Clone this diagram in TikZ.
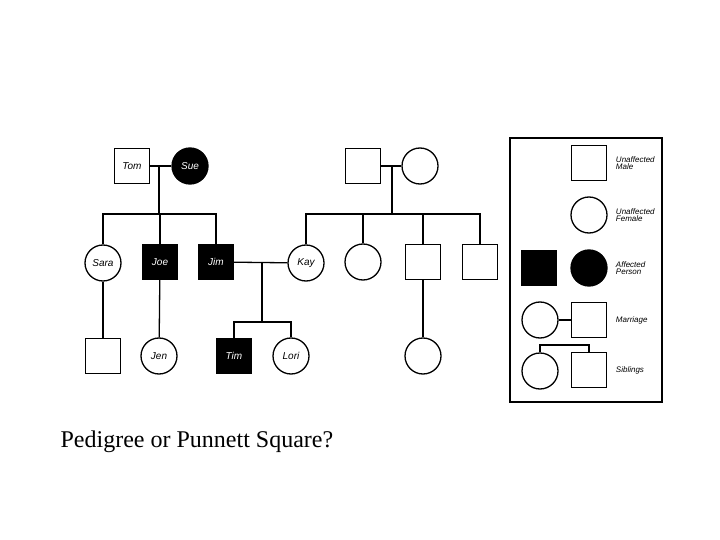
\documentclass[tikz,border=0pt]{standalone}
\usepackage{fontspec}
\setmainfont{Liberation Serif}
\newfontfamily\lblfont{Liberation Sans}
\begin{document}
\begin{tikzpicture}[x=1pt,y=-1pt,line width=1.3pt,
  m/.style={draw,minimum size=35pt,inner sep=0pt,font=\lblfont\itshape\fontsize{10}{11}\selectfont},
  f/.style={draw,circle,minimum size=36pt,inner sep=0pt,font=\lblfont\itshape\fontsize{10}{11}\selectfont},
  aff/.style={fill=black,text=white},
  leg/.style={anchor=west,align=left,font=\lblfont\itshape\fontsize{8}{9}\selectfont}]
\useasboundingbox (0,0) rectangle (720,540);
% generation I
\node[m] (tom) at (132,166) {Tom};
\node[f,aff] (sue) at (190,166) {Sue};
\node[m] (gf) at (363,166) {};
\node[f] (gm) at (420,166) {};
% generation II
\node[f] (sara) at (103,263) {Sara};
\node[m,aff] (joe) at (160,262) {Joe};
\node[m,aff] (jim) at (216,262) {Jim};
\node[f] (kay) at (306,263) {Kay};
\node[f] (c2) at (363,262) {};
\node[m] (s2) at (423,262) {};
\node[m] (s3) at (480,262) {};
% generation III
\node[m] (sson) at (103,356) {};
\node[f] (jen) at (159,356) {Jen};
\node[m,aff] (tim) at (234,356) {Tim};
\node[f] (lori) at (291,356) {Lori};
\node[f] (gd) at (423,356) {};
% lines
\draw (tom) -- (sue);
\coordinate (m1) at (159,166);
\draw (m1) -- (159,214);
\draw (sara.north) |- (159,214) -| (jim.north);
\draw (joe.north) -- (160,214);
\draw (gf) -- (gm);
\coordinate (m2) at (392,166);
\draw (m2) -- (392,214);
\draw (kay.north) |- (392,214) -| (s3.north);
\draw (c2.north) -- (363,214);
\draw (s2.north) -- (423,214);
\draw (jim) -- (kay);
\coordinate (m3) at (262,262);
\draw (m3) -- (262,322);
\draw (tim.north) |- (262,322) -| (lori.north);
\draw (sara) -- (sson);
\draw (joe) -- (jen);
\draw (s2) -- (gd);
% legend
\node[draw,minimum width=152pt,minimum height=264pt,inner sep=0pt] (box) at (586,270) {};
\node[m] (lm) at (589,163) {};
\node[leg] at (612,163) {Unaffected\\[-2pt]Male};
\node[f] (lf) at (589,215) {};
\node[leg] at (612,215) {Unaffected\\[-2pt]Female};
\node[m,aff] (la1) at (539,268) {};
\node[f,aff] (la2) at (589,268) {};
\node[leg] at (612,268) {Affected\\[-2pt]Person};
\node[f] (lmc) at (540,320) {};
\node[m] (lms) at (589,320) {};
\draw (lmc) -- (lms);
\node[leg] at (612,320) {Marriage};
\node[f] (lsc) at (540,371) {};
\node[m] (lss) at (589,370) {};
\draw (lsc.north) |- (564,345) -| (lss.north);
\node[leg] at (612,370) {Siblings};
% caption
\node[anchor=base west,inner sep=0pt,font=\fontsize{24}{28}\selectfont] (cap) at (60,447) {Pedigree or Punnett Square?};
\end{tikzpicture}
\end{document}
